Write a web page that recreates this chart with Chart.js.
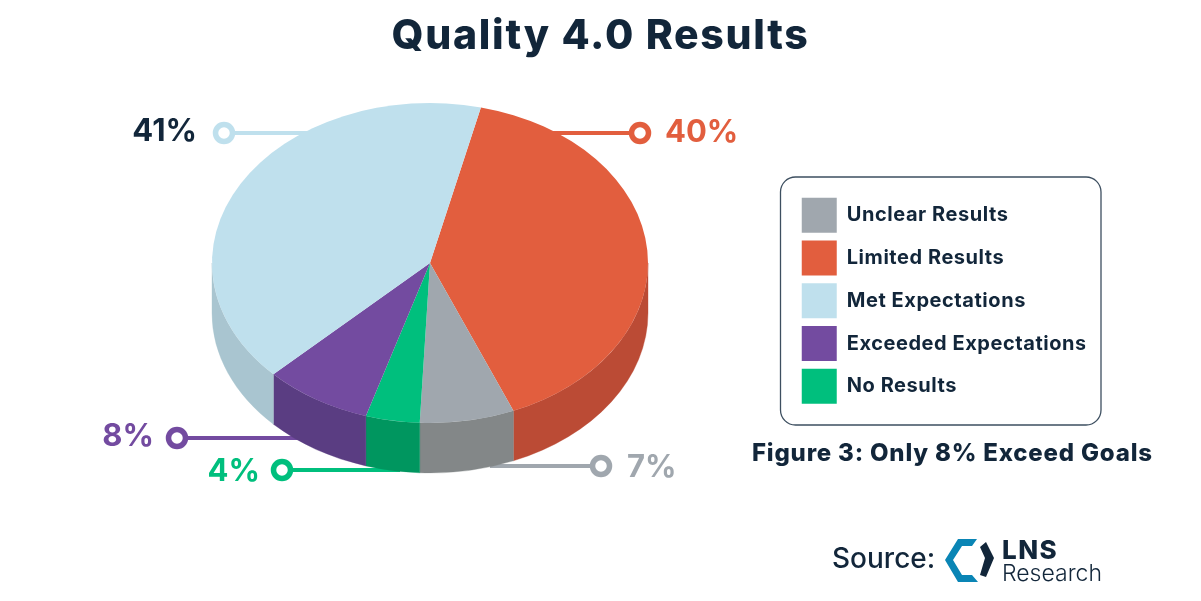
<!DOCTYPE html>
<html><head><meta charset="utf-8">
<style>html,body{margin:0;padding:0;background:#fff;overflow:hidden}#c{display:block;width:1201px;height:601px}</style>
<script src="https://cdn.jsdelivr.net/npm/chart.js@4"></script>
</head><body><canvas id="c" width="1201" height="601"></canvas>
<script>
// Data
const categories = ['Limited Results','Unclear Results','No Results','Exceeded Expectations','Met Expectations'];
const values = [40,7,4,8,41];
const legendOrder = ['Unclear Results','Limited Results','Met Expectations','Exceeded Expectations','No Results'];
const topColors = ['#e25e3e','#a0a7ae','#00bf7d','#734ba0','#bfe0ed'];
const sideColors = ['#bb4b35','#838788','#00965f','#5a3d82','#a9c5d0'];
const labelColors = ['#e25e3e','#a0a7ae','#00bf7d','#734ba0','#12263a'];
const ringColors = ['#e25e3e','#a0a7ae','#00bf7d','#734ba0','#bfe0ed'];

// Layout (not data)
const INK = '#12263a';
const FONT = 'Inter, Lato, sans-serif';
const PIE = {cx:430, cy:263, rx:218, ry:160, depth:50, rotation:13.5};
// ring centre, line end, label anchor for each slice, same order as categories
const callouts = [
  {rx:640, y:133, lx:540, tx:665, align:'left',  ty:133},
  {rx:601, y:466, lx:490, tx:627, align:'left',  ty:468},
  {rx:282, y:470, lx:400, tx:260, align:'right', ty:472},
  {rx:177, y:438, lx:310, tx:154, align:'right', ty:437},
  {rx:224, y:133, lx:320, tx:197, align:'right', ty:132}
];

function pieTransform(ctx, arc){
  const R = arc.outerRadius;
  ctx.translate(PIE.cx, PIE.cy);
  ctx.scale(PIE.rx/R, PIE.ry/R);
  ctx.translate(-arc.x, -arc.y);
}
function spaced(box, ctx, px){
  if (box._spaced) return;
  const draw = box.draw;
  box.draw = function(){
    ctx.letterSpacing = px;
    draw.apply(box, arguments);
    ctx.letterSpacing = '0px';
  };
  box._spaced = true;
}

const decor = {
  id:'decor',
  afterLayout(chart){
    const lg = chart.legend;
    const w = lg.width, h = lg.height;
    lg.left = 794; lg.top = 190; lg.right = lg.left + w; lg.bottom = lg.top + h;
    if (lg.adjustHitBoxes) lg.adjustHitBoxes();
    spaced(lg, chart.ctx, '0.55px');
    spaced(chart.titleBlock, chart.ctx, '1.7px');
  },
  beforeDraw(chart){
    const ctx = chart.ctx;
    ctx.fillStyle = '#fff';
    ctx.fillRect(0,0,chart.width,chart.height);
    // legend frame
    ctx.save();
    ctx.strokeStyle = '#3d4f60';
    ctx.lineWidth = 1.3;
    ctx.beginPath();
    ctx.roundRect(780.5,177,320.5,248,15);
    ctx.stroke();
    ctx.restore();
  },
  beforeDatasetsDraw(chart){
    const ctx = chart.ctx;
    const arcs = chart.getDatasetMeta(0).data;
    // leader lines and rings, behind the pie
    callouts.forEach((c,i)=>{
      ctx.save();
      ctx.strokeStyle = ringColors[i];
      ctx.lineWidth = 4;
      ctx.beginPath(); ctx.moveTo(c.rx,c.y); ctx.lineTo(c.lx,c.y); ctx.stroke();
      ctx.fillStyle = '#fff';
      ctx.lineWidth = 5.5;
      ctx.beginPath(); ctx.arc(c.rx,c.y,8.5,0,Math.PI*2); ctx.fill(); ctx.stroke();
      ctx.restore();
    });
    ctx.save();
    pieTransform(ctx, arcs[0]);
    const R = arcs[0].outerRadius;
    const d = PIE.depth * R / PIE.ry;
    // extruded wall, only the part of each slice on the near half
    arcs.forEach((a,i)=>{
      const TAU = Math.PI*2;
      for (const k of [-1,0,1]){
        const s = Math.max(a.startAngle + k*TAU, 0);
        const e = Math.min(a.endAngle + k*TAU, Math.PI);
        if (e <= s) continue;
        ctx.beginPath();
        ctx.arc(a.x,a.y,R,s,e);
        ctx.arc(a.x,a.y+d,R,e,s,true);
        ctx.closePath();
        ctx.fillStyle = sideColors[i];
        ctx.strokeStyle = sideColors[i];
        ctx.lineWidth = 0.5;
        ctx.fill(); ctx.stroke();
      }
    });
    // context stays squashed while the library draws the slice tops
  },
  afterDatasetsDraw(chart){ chart.ctx.restore(); },
  afterDraw(chart){
    const ctx = chart.ctx;
    // value labels
    callouts.forEach((c,i)=>{
      ctx.save();
      ctx.font = '700 31px '+FONT;
      ctx.fillStyle = labelColors[i];
      ctx.textAlign = c.align; ctx.textBaseline = 'middle';
      ctx.fillText(values[i]+'%', c.tx, c.ty);
      ctx.restore();
    });
    ctx.save();
    ctx.fillStyle = INK; ctx.textBaseline = 'alphabetic';
    ctx.textAlign = 'left';
    ctx.letterSpacing = '0.8px';
    ctx.font = '800 24px '+FONT;
    ctx.fillText('Figure 3: Only 8% Exceed Goals', 752, 461);
    ctx.letterSpacing = '0px';
    ctx.font = '500 28px '+FONT;
    ctx.fillText('Source:', 832, 568);
    ctx.letterSpacing = '1.5px';
    ctx.font = '800 26px '+FONT;
    ctx.fillText('LNS', 1002, 559);
    ctx.letterSpacing = '0px';
    ctx.font = '300 23px '+FONT;
    ctx.fillText('Research', 1002, 581);
    // logo
    ctx.fillStyle = '#0a85b5';
    ctx.beginPath();
    [[958,539],[977,539],[972,546],[962,546],[953,560],[962,575],[972,575],[978,582],[958,582],[945,560]]
      .forEach((p,i)=> i? ctx.lineTo(p[0],p[1]) : ctx.moveTo(p[0],p[1]));
    ctx.closePath(); ctx.fill();
    ctx.fillStyle = INK;
    ctx.beginPath();
    [[986,542],[994,558],[986,577],[980,575],[985,558],[980,547]]
      .forEach((p,i)=> i? ctx.lineTo(p[0],p[1]) : ctx.moveTo(p[0],p[1]));
    ctx.closePath(); ctx.fill();
    ctx.restore();
  }
};

new Chart(document.getElementById('c'),{
  type:'pie',
  data:{labels:categories,datasets:[{data:values,backgroundColor:topColors,borderWidth:0,clip:false}]},
  plugins:[decor],
  options:{
    responsive:false, animation:false, devicePixelRatio:1,
    rotation:PIE.rotation,
    layout:{padding:0},
    plugins:{
      tooltip:{enabled:false},
      title:{display:true,text:'Quality 4.0 Results',color:INK,
        font:{family:FONT,size:41,weight:'800'},padding:{top:12,bottom:10}},
      legend:{position:'right',align:'start',
        labels:{boxWidth:35,boxHeight:35,padding:7.75,color:INK,
          font:{family:FONT,size:20,weight:'700'},
          sort:(a,b)=>legendOrder.indexOf(a.text)-legendOrder.indexOf(b.text)}}
    }
  }
});
</script></body></html>
